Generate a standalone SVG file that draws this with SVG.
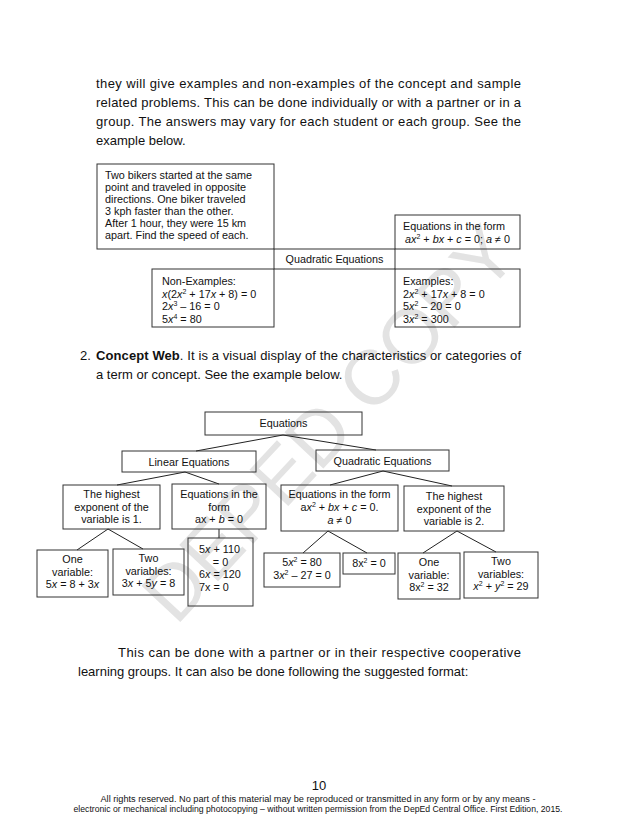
<svg xmlns="http://www.w3.org/2000/svg" width="638" height="831" viewBox="0 0 638 831">
<style>
text{font-family:"Liberation Sans",Arial,sans-serif;fill:#111}
.p{font-size:13px}
.s{font-size:10.8px}
.c{text-anchor:middle}
.f{font-size:8.3px}
.box{fill:none;stroke:#333;stroke-width:1}
.ln{stroke:#222;stroke-width:1;fill:none}
.wm{font-size:77px;fill:#e3e3e3;text-anchor:middle}
.i{font-style:italic}
</style>
<rect width="638" height="831" fill="#fff"/>
<text class="wm" x="328" y="450.5" transform="rotate(-47 328 423)">DEPED COPY</text>

<g id="intro">
<text class="p" x="96" y="88" textLength="425" lengthAdjust="spacing">they will give examples and non-examples of the concept and sample</text>
<text class="p" x="96" y="107" textLength="425" lengthAdjust="spacing">related problems. This can be done individually or with a partner or in a</text>
<text class="p" x="96" y="126" textLength="425" lengthAdjust="spacing">group. The answers may vary for each student or each group. See the</text>
<text class="p" x="96" y="145">example below.</text>
</g>

<g id="problem">
<rect class="box" x="97" y="164" width="177" height="85"/>
<text class="s" x="105" y="179">Two bikers started at the same</text>
<text class="s" x="105" y="191">point and traveled in opposite</text>
<text class="s" x="105" y="203">directions. One biker traveled</text>
<text class="s" x="105" y="215">3 kph faster than the other.</text>
<text class="s" x="105" y="227">After 1 hour, they were 15 km</text>
<text class="s" x="105" y="239">apart. Find the speed of each.</text>
</g>
<g id="quad-center">
<rect class="box" x="274" y="249" width="121" height="20"/>
<text class="s c" x="334.5" y="263">Quadratic Equations</text>
</g>
<g id="nonexamples">
<rect class="box" x="152" y="269" width="122" height="58"/>
<text class="s" x="162" y="285">Non-Examples:</text>
<text class="s" x="162" y="297.5"><tspan class="i">x</tspan>(2<tspan class="i">x</tspan><tspan font-size="7" dy="-4">2</tspan><tspan dy="4"> + 17</tspan><tspan class="i">x</tspan> + 8) = 0</text>
<text class="s" x="162" y="310">2<tspan class="i">x</tspan><tspan font-size="7" dy="-4">3</tspan><tspan dy="4"> – 16 = 0</tspan></text>
<text class="s" x="162" y="322.5">5<tspan class="i">x</tspan><tspan font-size="7" dy="-4">4</tspan><tspan dy="4"> = 80</tspan></text>
</g>
<g id="definition">
<rect class="box" x="395" y="215" width="125" height="34"/>
<text class="s" x="403" y="230">Equations in the form</text>
<text class="s" x="405" y="243"><tspan class="i">ax</tspan><tspan font-size="7" dy="-4">2</tspan><tspan dy="4"> + </tspan><tspan class="i">bx</tspan> + <tspan class="i">c</tspan> = 0; <tspan class="i">a</tspan> ≠ 0</text>
</g>
<g id="examples">
<rect class="box" x="395" y="269" width="125" height="58"/>
<text class="s" x="403" y="285">Examples:</text>
<text class="s" x="403" y="297.5">2<tspan class="i">x</tspan><tspan font-size="7" dy="-4">2</tspan><tspan dy="4"> + 17</tspan><tspan class="i">x</tspan> + 8 = 0</text>
<text class="s" x="403" y="310">5<tspan class="i">x</tspan><tspan font-size="7" dy="-4">2</tspan><tspan dy="4"> – 20 = 0</tspan></text>
<text class="s" x="403" y="322.5">3<tspan class="i">x</tspan><tspan font-size="7" dy="-4">2</tspan><tspan dy="4"> = 300</tspan></text>
</g>

<g id="concept-web-text">
<text class="p" x="80" y="360">2.</text>
<text class="p" x="96" y="360" textLength="425" lengthAdjust="spacing"><tspan font-weight="bold">Concept Web</tspan>. It is a visual display of the characteristics or categories of</text>
<text class="p" x="96" y="379">a term or concept. See the example below.</text>
</g>

<g id="connectors">
<path class="ln" d="M283 435L196 451M283 435L376 450"/>
<path class="ln" d="M185 472L117 485M185 472L219 484"/>
<path class="ln" d="M383 471L330 485M383 471L452 486"/>
<path class="ln" d="M108 529L77 550M108 529L143 549"/>
<path class="ln" d="M219 529L219 538"/>
<path class="ln" d="M328 531L303 553M328 531L367 553"/>
<path class="ln" d="M457 531L423 553M457 531L496 552"/>
</g>

<g id="equations">
<rect class="box" x="205" y="412" width="157" height="23"/>
<text class="s c" x="283.5" y="427">Equations</text>
</g>
<g id="linear">
<rect class="box" x="122" y="451" width="134" height="21"/>
<text class="s c" x="189" y="465.5">Linear Equations</text>
</g>
<g id="quadratic">
<rect class="box" x="316" y="450" width="133" height="21"/>
<text class="s c" x="382.5" y="464.5">Quadratic Equations</text>
</g>
<g id="highest1">
<rect class="box" x="63" y="485" width="97" height="44"/>
<text class="s c" x="111.5" y="498">The highest</text>
<text class="s c" x="111.5" y="510.5">exponent of the</text>
<text class="s c" x="111.5" y="523">variable is 1.</text>
</g>
<g id="linear-form">
<rect class="box" x="172" y="484" width="94" height="45"/>
<text class="s c" x="219" y="498">Equations in the</text>
<text class="s c" x="219" y="510.5">form</text>
<text class="s c" x="219" y="523">ax + <tspan class="i">b</tspan> = 0</text>
</g>
<g id="quad-form">
<rect class="box" x="281" y="485" width="117" height="46"/>
<text class="s c" x="339.5" y="498">Equations in the form</text>
<text class="s c" x="339.5" y="511">a<tspan class="i">x</tspan><tspan font-size="7" dy="-4">2</tspan><tspan dy="4"> + </tspan><tspan class="i">bx</tspan> + <tspan class="i">c</tspan> = 0.</text>
<text class="s c" x="339.5" y="524"><tspan class="i">a</tspan> ≠ 0</text>
</g>
<g id="highest2">
<rect class="box" x="404" y="486" width="100" height="45"/>
<text class="s c" x="454" y="500">The highest</text>
<text class="s c" x="454" y="512.5">exponent of the</text>
<text class="s c" x="454" y="525">variable is 2.</text>
</g>
<g id="one-var-linear">
<rect class="box" x="37" y="550" width="71" height="47"/>
<text class="s c" x="72.5" y="563">One</text>
<text class="s c" x="72.5" y="575.5">variable:</text>
<text class="s c" x="72.5" y="588">5<tspan class="i">x</tspan> = 8 + 3<tspan class="i">x</tspan></text>
</g>
<g id="two-var-linear">
<rect class="box" x="113" y="549" width="71" height="46"/>
<text class="s c" x="148.5" y="562">Two</text>
<text class="s c" x="148.5" y="574.5">variables:</text>
<text class="s c" x="148.5" y="587">3<tspan class="i">x</tspan> + 5<tspan class="i">y</tspan> = 8</text>
</g>
<g id="linear-examples">
<rect class="box" x="188" y="538" width="65" height="68"/>
<text class="s" x="199" y="553">5<tspan class="i">x</tspan> + 110</text>
<text class="s c" x="220.5" y="565.5">= 0</text>
<text class="s" x="199" y="578">6<tspan class="i">x</tspan> = 120</text>
<text class="s" x="199" y="590.5">7x = 0</text>
</g>
<g id="quad-examples">
<rect class="box" x="264" y="553" width="76" height="34"/>
<text class="s c" x="302" y="566">5<tspan class="i">x</tspan><tspan font-size="7" dy="-4">2</tspan><tspan dy="4"> = 80</tspan></text>
<text class="s c" x="302" y="578.5">3<tspan class="i">x</tspan><tspan font-size="7" dy="-4">2</tspan><tspan dy="4"> – 27  = 0</tspan></text>
</g>
<g id="quad-example2">
<rect class="box" x="343" y="553" width="52" height="21"/>
<text class="s c" x="369" y="567">8x<tspan font-size="7" dy="-4">2</tspan><tspan dy="4"> = 0</tspan></text>
</g>
<g id="one-var-quad">
<rect class="box" x="398" y="553" width="62" height="46"/>
<text class="s c" x="429" y="566">One</text>
<text class="s c" x="429" y="578.5">variable:</text>
<text class="s c" x="429" y="591">8x<tspan font-size="7" dy="-4">2</tspan><tspan dy="4"> = 32</tspan></text>
</g>
<g id="two-var-quad">
<rect class="box" x="464" y="552" width="74" height="46"/>
<text class="s c" x="501" y="565">Two</text>
<text class="s c" x="501" y="577.5">variables:</text>
<text class="s c" x="501" y="590"><tspan class="i">x</tspan><tspan font-size="7" dy="-4">2</tspan><tspan dy="4"> + </tspan><tspan class="i">y</tspan><tspan font-size="7" dy="-4">2</tspan><tspan dy="4"> = 29</tspan></text>
</g>

<g id="closing">
<text class="p" x="118" y="657" textLength="403" lengthAdjust="spacing">This can be done with a partner or in their respective cooperative</text>
<text class="p" x="78" y="676">learning groups. It can also be done following the suggested format:</text>
</g>

<g id="footer">
<text class="c" x="319" y="790" font-size="13">10</text>
<text class="f c" x="318" y="802" textLength="435" lengthAdjust="spacingAndGlyphs">All rights reserved. No part of this material may be reproduced or transmitted in any form or by any means -</text>
<text class="f c" x="318" y="812" textLength="489" lengthAdjust="spacingAndGlyphs">electronic or mechanical including photocopying – without written permission from the DepEd Central Office. First Edition, 2015.</text>
</g>
</svg>
